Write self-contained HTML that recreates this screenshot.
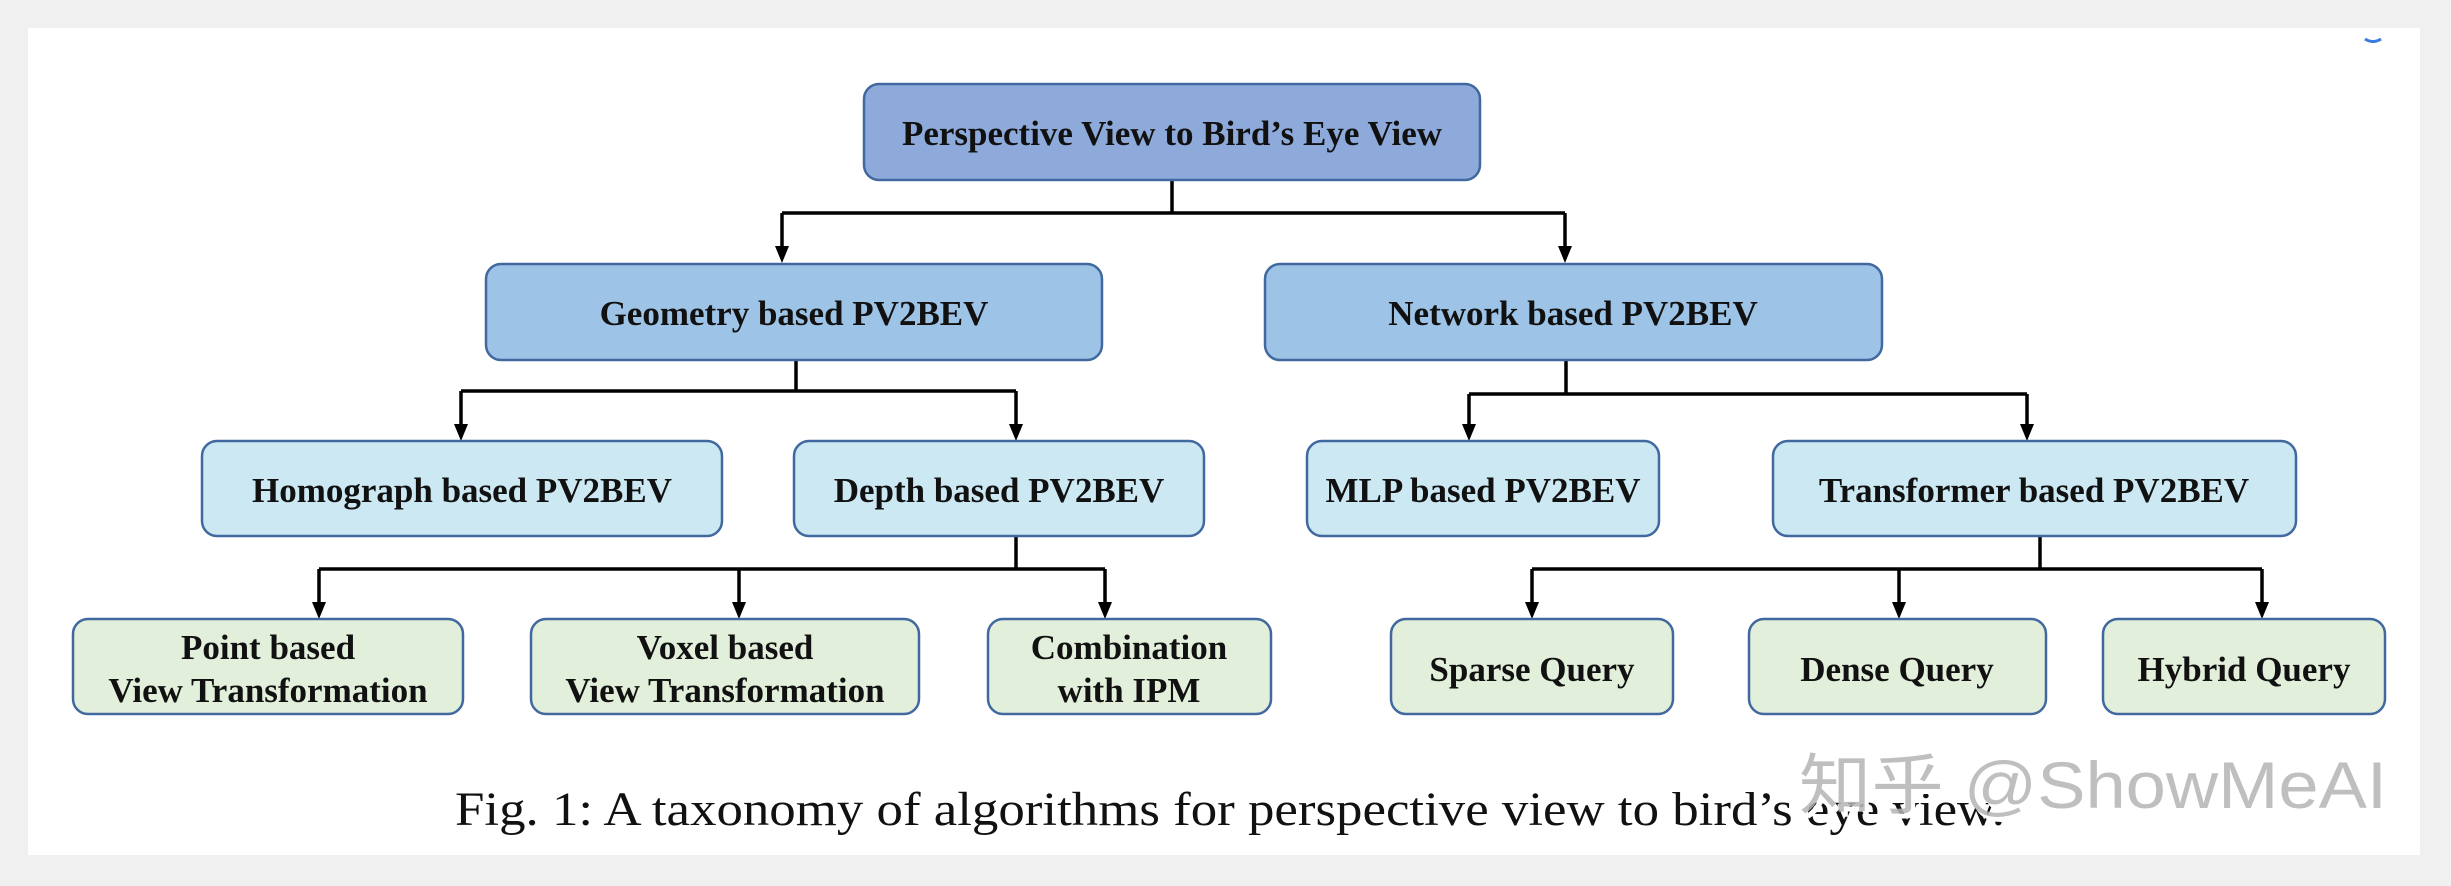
<!DOCTYPE html>
<html><head><meta charset="utf-8"><style>
html,body{margin:0;padding:0;background:#f0f0f0;}
svg{display:block}
.b{font-family:"Liberation Serif",serif;font-weight:bold;font-size:35px;fill:#111;text-anchor:middle;}
</style></head><body>
<svg width="2451" height="886" viewBox="0 0 2451 886" xmlns="http://www.w3.org/2000/svg">
<rect x="28" y="28" width="2392" height="827" fill="#fff"/>
<g stroke="#000" stroke-width="3.5" fill="none">
<path d="M1172 180 V213 M782 213 H1565 M796 360 V391 M461 391 H1016 M1566 360 V394 M1469 394 H2027 M1016 536 V569 M319 569 H1105 M2040 536 V569 M1532 569 H2262"/>
<path d="M782 213 V248 M1565 213 V248 M461 391 V426 M1016 391 V426 M1469 394 V426 M2027 394 V426 M319 569 V604 M739 569 V604 M1105 569 V604 M1532 569 V604 M1899 569 V604 M2262 569 V604"/>
</g>
<g fill="#000">
<path d="M775 246 h14 l-7 17 z M1558 246 h14 l-7 17 z M454 424 h14 l-7 17 z M1009 424 h14 l-7 17 z M1462 424 h14 l-7 17 z M2020 424 h14 l-7 17 z M312 602 h14 l-7 17 z M732 602 h14 l-7 17 z M1098 602 h14 l-7 17 z M1525 602 h14 l-7 17 z M1892 602 h14 l-7 17 z M2255 602 h14 l-7 17 z"/>
</g>
<g stroke="#41699f" stroke-width="2.5">
<rect x="864" y="84" width="616" height="96" rx="15" fill="#8eaadb"/>
<rect x="486" y="264" width="616" height="96" rx="15" fill="#9dc3e6"/>
<rect x="1265" y="264" width="617" height="96" rx="15" fill="#9dc3e6"/>
<rect x="202" y="441" width="520" height="95" rx="15" fill="#cbe8f3"/>
<rect x="794" y="441" width="410" height="95" rx="15" fill="#cbe8f3"/>
<rect x="1307" y="441" width="352" height="95" rx="15" fill="#cbe8f3"/>
<rect x="1773" y="441" width="523" height="95" rx="15" fill="#cbe8f3"/>
<rect x="73" y="619" width="390" height="95" rx="15" fill="#e2efda"/>
<rect x="531" y="619" width="388" height="95" rx="15" fill="#e2efda"/>
<rect x="988" y="619" width="283" height="95" rx="15" fill="#e2efda"/>
<rect x="1391" y="619" width="282" height="95" rx="15" fill="#e2efda"/>
<rect x="1749" y="619" width="297" height="95" rx="15" fill="#e2efda"/>
<rect x="2103" y="619" width="282" height="95" rx="15" fill="#e2efda"/>
</g>
<text class="b" x="1172" y="145">Perspective View to Bird’s Eye View</text>
<text class="b" x="794" y="325">Geometry based PV2BEV</text>
<text class="b" x="1573" y="325">Network based PV2BEV</text>
<text class="b" x="462" y="502">Homograph based PV2BEV</text>
<text class="b" x="999" y="502">Depth based PV2BEV</text>
<text class="b" x="1483" y="502">MLP based PV2BEV</text>
<text class="b" x="2034" y="502">Transformer based PV2BEV</text>
<text class="b" x="268" y="659">Point based</text>
<text class="b" x="268" y="702">View Transformation</text>
<text class="b" x="725" y="659">Voxel based</text>
<text class="b" x="725" y="702">View Transformation</text>
<text class="b" x="1129" y="659">Combination</text>
<text class="b" x="1129" y="702">with IPM</text>
<text class="b" x="1532" y="681">Sparse Query</text>
<text class="b" x="1897" y="681">Dense Query</text>
<text class="b" x="2244" y="681">Hybrid Query</text>
<text x="455" y="825" font-family="Liberation Serif,serif" font-size="48" fill="#111" textLength="1550" lengthAdjust="spacingAndGlyphs">Fig. 1: A taxonomy of algorithms for perspective view to bird’s eye view.</text>
<text x="1803" y="813" font-family="Liberation Sans,'Noto Sans CJK SC',sans-serif" font-size="66" fill="#fff" textLength="588" lengthAdjust="spacingAndGlyphs">知乎 @ShowMeAI</text>
<text x="1799" y="808" font-family="Liberation Sans,'Noto Sans CJK SC',sans-serif" font-size="66" fill="#b4b4b4" fill-opacity="0.85" textLength="588" lengthAdjust="spacingAndGlyphs">知乎 @ShowMeAI</text>
<path d="M2365 39 q8 5 16 0" stroke="#3b7be0" stroke-width="3" fill="none"/>
</svg>
</body></html>
